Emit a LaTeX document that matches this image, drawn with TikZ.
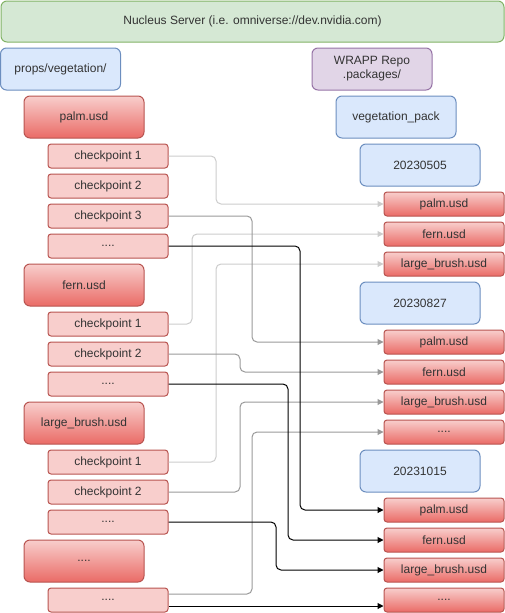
\documentclass[tikz,border=0pt]{standalone}
\usepackage{fontspec}
\setmainfont{Liberation Sans}
\usetikzlibrary{arrows.meta,calc}
\definecolor{greenfill}{HTML}{D5E8D4}
\definecolor{greenline}{HTML}{82B366}
\definecolor{bluefill}{HTML}{DAE8FC}
\definecolor{blueline}{HTML}{6C8EBF}
\definecolor{purpfill}{HTML}{E1D5E7}
\definecolor{purpline}{HTML}{9673A6}
\definecolor{redtop}{HTML}{F8CECC}
\definecolor{redbot}{HTML}{EA6B66}
\definecolor{redline}{HTML}{B85450}
\definecolor{txt}{HTML}{333333}
\definecolor{lightedge}{HTML}{CCCCCC}
\definecolor{midedge}{HTML}{999999}
\begin{document}
\begin{tikzpicture}[x=1pt,y=-1pt,
  base/.style={inner sep=0pt, line width=1pt, text=txt, font=\fontsize{12}{14}\selectfont, align=center},
  bigbox/.style={base, rounded corners=6pt, minimum width=120pt, minimum height=42pt},
  smallbox/.style={base, rounded corners=3pt, minimum width=120pt, minimum height=24pt},
  bluebox/.style={bigbox, draw=blueline, fill=bluefill},
  redbig/.style={bigbox, draw=redline, top color=redtop, bottom color=redbot},
  redsmall/.style={smallbox, draw=redline, top color=redtop, bottom color=redbot},
  ckbox/.style={smallbox, draw=redline, fill=redtop},
  conn/.style={line width=1pt, rounded corners=5pt, -{Triangle[length=6pt,width=6pt]}},
  lconn/.style={conn, draw=lightedge},
  mconn/.style={conn, draw=midedge},
  bconn/.style={conn, draw=black},
]
\useasboundingbox (0,0) rectangle (505,613);

\node[base, rounded corners=6pt, draw=greenline, fill=greenfill, minimum width=503pt, minimum height=41pt] (top) at (252.5,21.5) {Nucleus Server (i.e. omniverse://dev.nvidia.com)};

% left column
\node[bluebox] (props) at (60.5,69) {props/vegetation/};
\node[redbig] (palm) at (84,117) {palm.usd};
\node[ckbox] (pc1) at (108,156) {checkpoint 1};
\node[ckbox] (pc2) at (108,186) {checkpoint 2};
\node[ckbox] (pc3) at (108,216) {checkpoint 3};
\node[ckbox] (pcd) at (108,246) {....};
\node[redbig] (fern) at (84,285) {fern.usd};
\node[ckbox] (fc1) at (108,324) {checkpoint 1};
\node[ckbox] (fc2) at (108,354) {checkpoint 2};
\node[ckbox] (fcd) at (108,384) {....};
\node[redbig] (lb) at (84,423) {large\_brush.usd};
\node[ckbox] (lc1) at (108,462) {checkpoint 1};
\node[ckbox] (lc2) at (108,492) {checkpoint 2};
\node[ckbox] (lcd) at (108,522) {....};
\node[redbig] (db) at (84,561) {....};
\node[ckbox] (dd) at (108,600) {....};

% right column
\node[bigbox, draw=purpline, fill=purpfill] (wrapp) at (372,69) {WRAPP Repo\\.packages/};
\node[bluebox] (vpack) at (396,117) {vegetation\_pack};
\node[bluebox] (v1) at (420,165) {20230505};
\node[redsmall] (v1p) at (444,204) {palm.usd};
\node[redsmall] (v1f) at (444,234) {fern.usd};
\node[redsmall] (v1l) at (444,264) {large\_brush.usd};
\node[bluebox] (v2) at (420,303) {20230827};
\node[redsmall] (v2p) at (444,342) {palm.usd};
\node[redsmall] (v2f) at (444,372) {fern.usd};
\node[redsmall] (v2l) at (444,402) {large\_brush.usd};
\node[redsmall] (v2d) at (444,432) {....};
\node[bluebox] (v3) at (420,471) {20231015};
\node[redsmall] (v3p) at (444,510) {palm.usd};
\node[redsmall] (v3f) at (444,540) {fern.usd};
\node[redsmall] (v3l) at (444,570) {large\_brush.usd};
\node[redsmall] (v3d) at (444,600) {....};

% lanes
\coordinate (x192) at (192,0);
\coordinate (x216) at (216,0);
\coordinate (x240) at (240,0);
\coordinate (x252) at (252,0);
\coordinate (x276) at (276,0);
\coordinate (x288) at (288,0);
\coordinate (x300) at (300,0);
\coordinate (ddu) at ($(dd.east)+(0,-6)$);
\coordinate (ddl) at ($(dd.east)+(0,6)$);
\coordinate (v3dl) at ($(v3d.west)+(0,6)$);

% light connectors (20230505)
\draw[lconn] (pc1.east) -- (pc1.east -| x216) -- (x216 |- v1p.west) -- (v1p.west);
\draw[lconn] (fc1.east) -- (fc1.east -| x192) -- (x192 |- v1f.west) -- (v1f.west);
\draw[lconn] (lc1.east) -- (lc1.east -| x216) -- (x216 |- v1l.west) -- (v1l.west);

% medium connectors (20230827)
\draw[mconn] (pc3.east) -- (pc3.east -| x252) -- (x252 |- v2p.west) -- (v2p.west);
\draw[mconn] (fc2.east) -- (fc2.east -| x240) -- (x240 |- v2f.west) -- (v2f.west);
\draw[mconn] (lc2.east) -- (lc2.east -| x240) -- (x240 |- v2l.west) -- (v2l.west);
\draw[mconn] (ddu) -- (ddu -| x252) -- (x252 |- v2d.west) -- (v2d.west);

% black connectors (20231015)
\draw[bconn] (pcd.east) -- (pcd.east -| x300) -- (x300 |- v3p.west) -- (v3p.west);
\draw[bconn] (fcd.east) -- (fcd.east -| x288) -- (x288 |- v3f.west) -- (v3f.west);
\draw[bconn] (lcd.east) -- (lcd.east -| x276) -- (x276 |- v3l.west) -- (v3l.west);
\draw[bconn] (ddl) -- (v3dl);
\end{tikzpicture}
\end{document}
